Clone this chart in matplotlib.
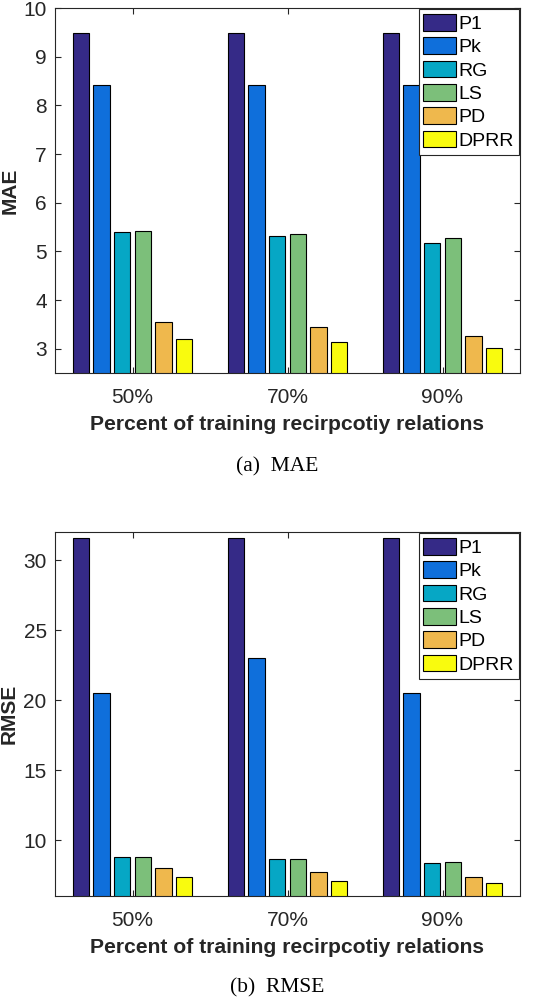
import numpy as np
import matplotlib
matplotlib.use("Agg")
import matplotlib.pyplot as plt

# ==========================
# data
# ==========================
groups = ["50%", "70%", "90%"]
methods = ["P1", "Pk", "RG", "LS", "PD", "DPRR"]
colors = ["#352A87", "#0F6FDB", "#06A7C5", "#7CBF7A", "#EFB84D", "#F9FB0E"]

mae_p1 = [9.49, 9.49, 9.49]
mae_pk = [8.42, 8.42, 8.42]
mae_rg = [5.39, 5.31, 5.18]
mae_ls = [5.41, 5.35, 5.27]
mae_pd = [3.55, 3.45, 3.27]
mae_dprr = [3.20, 3.14, 3.02]

rmse_p1 = [31.57, 31.57, 31.57]
rmse_pk = [20.52, 22.99, 20.52]
rmse_rg = [8.79, 8.65, 8.36]
rmse_ls = [8.79, 8.65, 8.43]
rmse_pd = [8.00, 7.72, 7.37]
rmse_dprr = [7.37, 7.08, 6.94]

mae = [mae_p1, mae_pk, mae_rg, mae_ls, mae_pd, mae_dprr]
rmse = [rmse_p1, rmse_pk, rmse_rg, rmse_ls, rmse_pd, rmse_dprr]

# ==========================
# style
# ==========================
plt.rcParams["font.family"] = ["Liberation Sans", "DejaVu Sans"]
dark = "#262626"

fig = plt.figure(figsize=(5.34, 9.99), dpi=100)
W, H = 534, 999


def panel(top_px, bottom_px, series, ylabel, ylim, yticks, caption, cap_y):
    ax = fig.add_axes([55 / W, 1 - bottom_px / H, 465 / W, (bottom_px - top_px) / H])
    x = np.arange(1, len(groups) + 1)
    step = 0.1333
    width = 0.107
    for i, (vals, name, c) in enumerate(zip(series, methods, colors)):
        off = (i - (len(methods) - 1) / 2) * step
        ax.bar(x + off, vals, width, color=c, edgecolor="black",
               linewidth=0.8, label=name)
    ax.set_xlim(0.5, 3.5)
    ax.set_ylim(*ylim)
    ax.set_yticks(yticks)
    ax.set_xticks(x)
    ax.set_xticklabels(groups)
    ax.tick_params(direction="in", length=4, width=0.8, top=True, right=True,
                   labelsize=15, colors=dark)
    ax.tick_params(axis="x", pad=10.5)
    ax.tick_params(axis="y", pad=6)
    for s in ax.spines.values():
        s.set_color(dark)
        s.set_linewidth(0.8)
    ax.set_xlabel("Percent of training recirpcotiy relations", fontsize=15.2,
                  fontweight="bold", color=dark, labelpad=6)
    ax.set_ylabel(ylabel, fontsize=15, fontweight="bold", color=dark, labelpad=3)
    leg = ax.legend(loc="upper right", fontsize=14, fancybox=False,
                    edgecolor=dark, framealpha=1, borderaxespad=0.05,
                    handlelength=1.7, handleheight=0.95, labelspacing=0.22,
                    handletextpad=0.12, borderpad=0.25)
    leg.get_frame().set_linewidth(0.8)
    fig.text(0.5 + 10 / W, 1 - cap_y / H, caption, ha="center", va="center",
             fontsize=15.5, family="Liberation Serif", color="black")
    return ax


panel(8, 373, mae, "MAE", (2.5, 10), [3, 4, 5, 6, 7, 8, 9, 10], "(a)  MAE", 467)
panel(532, 896, rmse, "RMSE", (6, 32), [10, 15, 20, 25, 30], "(b)  RMSE", 988)

fig.savefig("out.png", dpi=100)
plt.close()
